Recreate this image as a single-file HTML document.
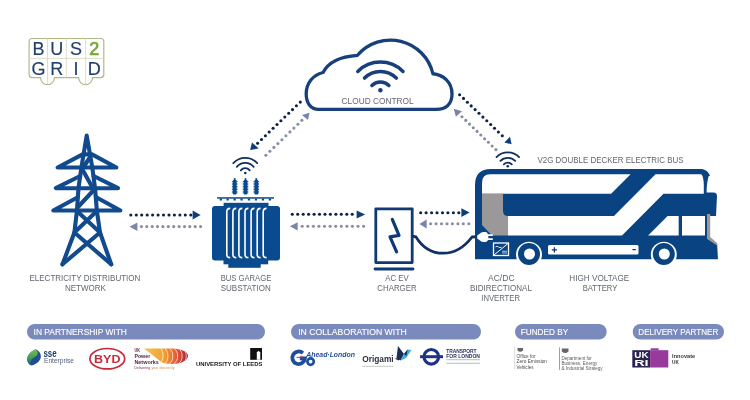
<!DOCTYPE html>
<html><head><meta charset="utf-8">
<style>
html,body{margin:0;padding:0;background:#fff;width:750px;height:400px;overflow:hidden}
svg{display:block;will-change:transform}
text{font-family:"Liberation Sans",sans-serif}
.lbl{fill:#62676f;font-size:9.6px}
.pill{fill:#fff;stroke:#fff;stroke-width:0.12px;font-size:9.4px}
</style></head><body>
<svg width="750" height="400" viewBox="0 0 750 400">
<rect width="750" height="400" fill="#fff"/>

<!-- BUS2GRID logo -->
<g id="logo">
  <path d="M32 38.5 H100.8 Q103.8 38.5 103.8 41.5 V74.6 Q103.8 77.6 100.8 77.6 H92.6 A7 7 0 0 1 78.6 77.6 H54.5 A7 7 0 0 1 40.5 77.6 H32 Q29.1 77.6 29.1 74.6 V41.5 Q29.1 38.5 32 38.5 Z" fill="none" stroke="#b0b987" stroke-width="1.2"/>
  <g stroke="#d3d8bd" stroke-width="0.8">
    <line x1="47.5" y1="38.5" x2="47.5" y2="84.6"/>
    <line x1="66.3" y1="38.5" x2="66.3" y2="77.6"/>
    <line x1="85.6" y1="38.5" x2="85.6" y2="84.6"/>
    <line x1="29.1" y1="58.4" x2="103.8" y2="58.4"/>
  </g>
  <g font-size="18" fill="#1f3e6c" stroke="#1f3e6c" stroke-width="0.15" text-anchor="middle">
    <text x="38.6" y="55">B</text><text x="56.8" y="55">U</text><text x="75.9" y="55">S</text>
    <text x="94.2" y="55" fill="#7aa63c" stroke="#7aa63c" stroke-width="0.7">2</text>
    <text x="38.6" y="74.9">G</text><text x="56.8" y="74.9">R</text><text x="75.9" y="74.9">I</text><text x="94.2" y="74.9">D</text>
  </g>
</g>

<!-- Cloud -->
<path d="M318.75 109.4 C310 109.4 306.2 102 306.2 94 C306.2 83 313 75 323.1 72.5 C328 62.5 340 56.5 357.5 55.3 A43.5 43.5 0 0 1 432.9 73.75 C443 74.5 452 82 452 94 C452 104 446 109.4 436 109.4 Z" fill="#fff" stroke="#173f7b" stroke-width="3.3" stroke-linejoin="round"/>
<g fill="none" stroke="#173f7b" stroke-width="3.5" stroke-linecap="round">
  <path d="M357.8 71.4 A32 32 0 0 1 403 71.4"/>
  <path d="M364.5 78.1 A22.5 22.5 0 0 1 396.3 78.1"/>
  <path d="M371.9 85.5 A12 12 0 0 1 388.9 85.5"/>
</g>
<circle cx="380.4" cy="90.3" r="2.2" fill="#173f7b"/>
<text class="lbl" x="377.6" y="104.4" text-anchor="middle" textLength="72" lengthAdjust="spacingAndGlyphs">CLOUD CONTROL</text>

<!-- Tower -->
<g fill="none" stroke="#124a8e" stroke-width="4.1" stroke-linecap="round" stroke-linejoin="round">
  <path d="M62.5 264.3 L74.4 232.5 L76.9 211 L78.5 188 L81.4 167.5 L86.7 135.5 L92.3 167.5 L95 188 L96.9 211 L100 232.5 L111.2 264.3"/>
  <path d="M82.6 154.4 L57.6 167.5 H116.4 L92 154.4 Z"/>
  <path d="M80.2 176 L55.8 188.2 H118 L93.6 176"/>
  <path d="M77.8 197.3 L53.3 210.5 H120.4 L96.2 197.3"/>
  <path d="M90.8 156 L82.2 169 L93.8 190 L78 207"/>
  <path d="M76.9 211 L100 232.5 L62.5 264.3"/>
  <path d="M96.9 211 L74.4 232.5 L111.2 264.3"/>
</g>

<!-- Substation -->
<g fill="none" stroke="#0f2f5f" stroke-width="1.8" stroke-linecap="round">
  <path d="M233.3 163.2 A16 16 0 0 1 257.2 163.2"/>
  <path d="M236.8 166.8 A11 11 0 0 1 253.7 166.8"/>
  <path d="M240.8 170.3 A5.8 5.8 0 0 1 249.7 170.3"/>
</g>
<circle cx="245.3" cy="173" r="1.3" fill="#0f2f5f"/>
<g fill="#0a4a8e">
  <g id="ins">
    <rect x="233.8" y="178.2" width="1.8" height="3"/>
    <rect x="232.9" y="180" width="3.7" height="14.5" rx="0.8"/>
    <rect x="231.9" y="181.2" width="5.6" height="0.8"/><rect x="231.9" y="182.8" width="5.6" height="0.8"/><rect x="231.9" y="184.4" width="5.6" height="0.8"/><rect x="231.9" y="186.0" width="5.6" height="0.8"/><rect x="231.9" y="187.6" width="5.6" height="0.8"/><rect x="231.9" y="189.2" width="5.6" height="0.8"/><rect x="231.9" y="190.8" width="5.6" height="0.8"/><rect x="231.9" y="192.4" width="5.6" height="0.8"/>
  </g>
  <use href="#ins" x="10.8"/><use href="#ins" x="21.6"/>
  <rect x="217.1" y="197.2" width="56.9" height="1.5"/>
  <rect x="219.7" y="198.5" width="2.3" height="2"/><rect x="226.5" y="198.5" width="2.3" height="2"/><rect x="233.5" y="198.5" width="2.3" height="2"/><rect x="240.4" y="198.5" width="2.3" height="2"/><rect x="247.8" y="198.5" width="2.3" height="2"/><rect x="254.8" y="198.5" width="2.3" height="2"/><rect x="261.8" y="198.5" width="2.3" height="2"/><rect x="268.8" y="198.5" width="2.3" height="2"/>
  <rect x="223.6" y="202.8" width="44.9" height="4"/>
  <rect x="212" y="206" width="68" height="54.5" rx="3"/>
  <rect x="223.5" y="259" width="44.7" height="5.3"/>
  <rect x="228.3" y="264" width="32.4" height="3.8"/>
</g>
<g fill="none" stroke="#fff" stroke-width="1.6">
  <path d="M230.2 208.4 Q226.8 208.4 226.8 212 V254.5 Q226.8 257.6 230.2 257.6"/>
  <path d="M236.3 208.4 Q232.9 208.4 232.9 212 V254.5 Q232.9 257.6 236.3 257.6"/>
  <path d="M242.3 208.4 Q238.9 208.4 238.9 212 V254.5 Q238.9 257.6 242.3 257.6"/>
  <path d="M248.4 208.4 Q245.0 208.4 245.0 212 V254.5 Q245.0 257.6 248.4 257.6"/>
  <path d="M254.5 208.4 Q251.1 208.4 251.1 212 V254.5 Q251.1 257.6 254.5 257.6"/>
  <path d="M260.6 208.4 Q257.2 208.4 257.2 212 V254.5 Q257.2 257.6 260.6 257.6"/>
  <path d="M266.6 208.4 Q263.2 208.4 263.2 212 V254.5 Q263.2 257.6 266.6 257.6"/>
</g>
<text class="lbl" x="246" y="281.4" text-anchor="middle" textLength="50.6" lengthAdjust="spacingAndGlyphs">BUS GARAGE</text>
<text class="lbl" x="245.7" y="291.4" text-anchor="middle" textLength="50" lengthAdjust="spacingAndGlyphs">SUBSTATION</text>

<!-- Tower label -->
<text class="lbl" x="84.9" y="281.4" text-anchor="middle" textLength="111" lengthAdjust="spacingAndGlyphs">ELECTRICITY DISTRIBUTION</text>
<text class="lbl" x="85.4" y="291.4" text-anchor="middle" textLength="41" lengthAdjust="spacingAndGlyphs">NETWORK</text>

<!-- Charger -->
<g fill="none" stroke="#0f3a74" stroke-linecap="round" stroke-linejoin="round">
  <rect x="375.8" y="208.8" width="36.4" height="53.8" stroke-width="2.8"/>
  <path d="M392.3 219.4 L399 235.4 L390 236.9 L396.6 251.8" stroke-width="3.2"/>
  <line x1="375" y1="269" x2="413" y2="269" stroke-width="2.8"/>
  <path d="M413.4 236.3 L416 236.9 C421 245 430 253.2 443.2 253.2 C456 253.2 466 245 472 237 L478 236.6" stroke-width="2.8" stroke="#0e3166"/>
</g>
<text class="lbl" x="397" y="281.4" text-anchor="middle" textLength="23.4" lengthAdjust="spacingAndGlyphs">AC EV</text>
<text class="lbl" x="397" y="291.4" text-anchor="middle" textLength="39.4" lengthAdjust="spacingAndGlyphs">CHARGER</text>

<!-- Bus -->
<g id="bus">
  <path d="M475 257 V185 Q475 169 491 169 H700 C704 169 708 170.5 710 175.8 L708.6 176.3 C707.2 181 706.6 187 706.6 192.5 H713.5 Q717 192.5 717 196 L716 216 H707.2 V238.5 L717.2 245 L718 259.5 H475 Z" fill="#0a4381"/>
  <path d="M482 193.8 V183 Q482 174.3 490 174.3 H630.6 L611.1 193.8 Z" fill="#fff"/>
  <path d="M655.5 174.3 H701 Q703.5 175 703.8 185 V193.8 H663.5 L622 235.5 H508 V216 H614 Z" fill="#fff"/>
  <path d="M667.6 216 H678.7 V235.5 H648.1 Z" fill="#fff"/>
  <rect x="682" y="216" width="23" height="19.5" fill="#fff"/>
  <path d="M482 193.8 H503 V211 Q503 216 508 216 V235.5 H492 L482 225 Z" fill="#9a9899"/>
  <path d="M707 214 H710.2 V237 L717.3 243.2 V245.5 L707 238.8 Z" fill="#9a9899"/>
  <circle cx="529" cy="254.8" r="13" fill="#fff"/>
  <circle cx="663.8" cy="254.8" r="13" fill="#fff"/>
  <rect x="475" y="259.5" width="250" height="10" fill="#fff"/>
  <circle cx="529" cy="254" r="11" fill="#0a4381"/>
  <circle cx="529.5" cy="254" r="5.5" fill="#fff"/>
  <circle cx="663.8" cy="254" r="11" fill="#0a4381"/>
  <circle cx="664.3" cy="254" r="5.5" fill="#fff"/>
  <rect x="548" y="245" width="90.5" height="9.5" rx="1.5" fill="#fff"/>
  <path d="M551.8 249.9 H557 M554.4 247.3 V252.5" stroke="#0d3a70" stroke-width="1.3"/>
  <path d="M632.4 249.6 H635.8" stroke="#0d3a70" stroke-width="1.3"/>
  <!-- inverter icon -->
  <rect x="493.5" y="243" width="15" height="12.5" fill="none" stroke="#fff" stroke-width="1.3"/>
  <path d="M494 255 L508 243.5" stroke="#fff" stroke-width="1"/>
  <path d="M495.5 247 q1.5 -1.5 3 0 t3 0" fill="none" stroke="#fff" stroke-width="0.8"/>
  <path d="M502 251.3 H507 M502 253 H507" stroke="#fff" stroke-width="0.7"/>
  <!-- plug -->
  <path d="M475.3 236.8 H478" stroke="#0f3a74" stroke-width="2.2"/>
  <path d="M477.2 235.6 L480 233.5 C481 232.2 483 232 485 232 C487.5 232 488.4 234 488.4 237 C488.4 240 487.5 242 485 242 C483 242 481 241.8 480 240.5 L477.2 238.4 Z" fill="#fff"/>
  <path d="M488 235.2 H492.8 M488 239.2 H492.8" stroke="#fff" stroke-width="1.8"/>
</g>
<g fill="none" stroke="#0f2f5f" stroke-width="1.8" stroke-linecap="round">
  <path d="M496.5 157.1 A16 16 0 0 1 519.1 157.1"/>
  <path d="M500.4 160.9 A10.5 10.5 0 0 1 515.2 160.9"/>
  <path d="M503.8 164.3 A5.6 5.6 0 0 1 511.8 164.3"/>
</g>
<circle cx="507.8" cy="166.3" r="1.3" fill="#0f2f5f"/>
<text class="lbl" x="610.5" y="163.4" text-anchor="middle" textLength="146" lengthAdjust="spacingAndGlyphs">V2G DOUBLE DECKER ELECTRIC BUS</text>
<text class="lbl" x="501.3" y="281.4" text-anchor="middle" textLength="26.7" lengthAdjust="spacingAndGlyphs">AC/DC</text>
<text class="lbl" x="501" y="291.4" text-anchor="middle" textLength="62" lengthAdjust="spacingAndGlyphs">BIDIRECTIONAL</text>
<text class="lbl" x="500.6" y="301.4" text-anchor="middle" textLength="38.7" lengthAdjust="spacingAndGlyphs">INVERTER</text>
<text class="lbl" x="599.3" y="281.4" text-anchor="middle" textLength="60" lengthAdjust="spacingAndGlyphs">HIGH VOLTAGE</text>
<text class="lbl" x="600" y="291.4" text-anchor="middle" textLength="34.6" lengthAdjust="spacingAndGlyphs">BATTERY</text>

<!-- Dotted arrows -->
<g id="arrows">
<g fill="#0b2149"><circle cx="130.8" cy="215.0" r="1.55"/><circle cx="136.3" cy="215.0" r="1.55"/><circle cx="141.7" cy="215.0" r="1.55"/><circle cx="147.2" cy="215.0" r="1.55"/><circle cx="152.6" cy="215.0" r="1.55"/><circle cx="158.1" cy="215.0" r="1.55"/><circle cx="163.5" cy="215.0" r="1.55"/><circle cx="169.0" cy="215.0" r="1.55"/><circle cx="174.4" cy="215.0" r="1.55"/><circle cx="179.9" cy="215.0" r="1.55"/><circle cx="185.3" cy="215.0" r="1.55"/><circle cx="190.8" cy="215.0" r="1.55"/></g>
<path d="M192.6 210.6 L200.6 215 L192.6 219.4 Z" fill="#0f3d7c"/>
<g fill="#8b8d9f"><circle cx="141.4" cy="226.6" r="1.55"/><circle cx="146.8" cy="226.6" r="1.55"/><circle cx="152.2" cy="226.6" r="1.55"/><circle cx="157.5" cy="226.6" r="1.55"/><circle cx="162.9" cy="226.6" r="1.55"/><circle cx="168.3" cy="226.6" r="1.55"/><circle cx="173.7" cy="226.6" r="1.55"/><circle cx="179.1" cy="226.6" r="1.55"/><circle cx="184.5" cy="226.6" r="1.55"/><circle cx="189.8" cy="226.6" r="1.55"/><circle cx="195.2" cy="226.6" r="1.55"/><circle cx="200.6" cy="226.6" r="1.55"/></g>
<path d="M129.6 226.8 L137.4 222.6 L137.4 231 Z" fill="#7c84ae"/>
<g fill="#0b2149"><circle cx="292.3" cy="214.3" r="1.55"/><circle cx="297.7" cy="214.3" r="1.55"/><circle cx="303.2" cy="214.3" r="1.55"/><circle cx="308.6" cy="214.3" r="1.55"/><circle cx="314.1" cy="214.3" r="1.55"/><circle cx="319.5" cy="214.3" r="1.55"/><circle cx="325.0" cy="214.3" r="1.55"/><circle cx="330.4" cy="214.3" r="1.55"/><circle cx="335.9" cy="214.3" r="1.55"/><circle cx="341.3" cy="214.3" r="1.55"/><circle cx="346.8" cy="214.3" r="1.55"/><circle cx="352.2" cy="214.3" r="1.55"/></g>
<path d="M356.6 210.4 L365.1 214.4 L356.6 218.4 Z" fill="#0f3d7c"/>
<g fill="#8b8d9f"><circle cx="302.2" cy="226.2" r="1.55"/><circle cx="307.8" cy="226.2" r="1.55"/><circle cx="313.4" cy="226.2" r="1.55"/><circle cx="318.9" cy="226.2" r="1.55"/><circle cx="324.5" cy="226.2" r="1.55"/><circle cx="330.1" cy="226.2" r="1.55"/><circle cx="335.7" cy="226.2" r="1.55"/><circle cx="341.3" cy="226.2" r="1.55"/><circle cx="346.9" cy="226.2" r="1.55"/><circle cx="352.4" cy="226.2" r="1.55"/><circle cx="358.0" cy="226.2" r="1.55"/><circle cx="363.6" cy="226.2" r="1.55"/></g>
<path d="M289.9 226.3 L297.7 222.2 L297.7 230.4 Z" fill="#7c84ae"/>
<g fill="#0b2149"><circle cx="420.7" cy="212.8" r="1.55"/><circle cx="426.1" cy="212.8" r="1.55"/><circle cx="431.6" cy="212.8" r="1.55"/><circle cx="437.0" cy="212.8" r="1.55"/><circle cx="442.5" cy="212.8" r="1.55"/><circle cx="447.9" cy="212.8" r="1.55"/><circle cx="453.4" cy="212.8" r="1.55"/><circle cx="458.8" cy="212.8" r="1.55"/></g>
<path d="M461.4 208.2 L469.6 212.6 L461.4 216.9 Z" fill="#0f3d7c"/>
<g fill="#8b8d9f"><circle cx="430.6" cy="223.8" r="1.55"/><circle cx="436.1" cy="223.8" r="1.55"/><circle cx="441.5" cy="223.8" r="1.55"/><circle cx="447.0" cy="223.8" r="1.55"/><circle cx="452.4" cy="223.8" r="1.55"/><circle cx="457.9" cy="223.8" r="1.55"/><circle cx="463.3" cy="223.8" r="1.55"/><circle cx="468.8" cy="223.8" r="1.55"/></g>
<path d="M419.4 224 L426.7 219.5 L426.7 228.6 Z" fill="#7c84ae"/>
<g fill="#0b2149"><circle cx="300.3" cy="102.1" r="1.55"/><circle cx="296.4" cy="105.8" r="1.55"/><circle cx="292.5" cy="109.6" r="1.55"/><circle cx="288.7" cy="113.3" r="1.55"/><circle cx="284.8" cy="117.0" r="1.55"/><circle cx="280.9" cy="120.8" r="1.55"/><circle cx="277.0" cy="124.5" r="1.55"/><circle cx="273.1" cy="128.3" r="1.55"/><circle cx="269.2" cy="132.0" r="1.55"/><circle cx="265.4" cy="135.7" r="1.55"/><circle cx="261.5" cy="139.5" r="1.55"/><circle cx="257.6" cy="143.2" r="1.55"/></g>
<path d="M250.1 150.1 L252 142.4 L258.7 148.5 Z" fill="#0f3d7c"/>
<g fill="#8b8d9f"><circle cx="265.9" cy="155.2" r="1.55"/><circle cx="269.9" cy="151.3" r="1.55"/><circle cx="273.9" cy="147.4" r="1.55"/><circle cx="277.9" cy="143.6" r="1.55"/><circle cx="281.9" cy="139.7" r="1.55"/><circle cx="285.9" cy="135.8" r="1.55"/><circle cx="289.9" cy="131.9" r="1.55"/><circle cx="293.9" cy="128.1" r="1.55"/><circle cx="297.9" cy="124.2" r="1.55"/><circle cx="301.9" cy="120.3" r="1.55"/></g>
<path d="M309.6 112.8 L301.9 114.9 L308 120 Z" fill="#7c84ae"/>
<g fill="#0b2149"><circle cx="459.6" cy="94.7" r="1.55"/><circle cx="463.5" cy="98.4" r="1.55"/><circle cx="467.4" cy="102.2" r="1.55"/><circle cx="471.2" cy="105.9" r="1.55"/><circle cx="475.1" cy="109.6" r="1.55"/><circle cx="479.0" cy="113.3" r="1.55"/><circle cx="482.9" cy="117.1" r="1.55"/><circle cx="486.8" cy="120.8" r="1.55"/><circle cx="490.7" cy="124.5" r="1.55"/><circle cx="494.5" cy="128.2" r="1.55"/><circle cx="498.4" cy="132.0" r="1.55"/><circle cx="502.3" cy="135.7" r="1.55"/></g>
<path d="M511.6 144.3 L504.4 142.4 L510 136.8 Z" fill="#0f3d7c"/>
<g fill="#8b8d9f"><circle cx="462.0" cy="116.8" r="1.55"/><circle cx="465.8" cy="120.4" r="1.55"/><circle cx="469.5" cy="124.1" r="1.55"/><circle cx="473.3" cy="127.7" r="1.55"/><circle cx="477.1" cy="131.4" r="1.55"/><circle cx="480.8" cy="135.0" r="1.55"/><circle cx="484.6" cy="138.7" r="1.55"/><circle cx="488.4" cy="142.3" r="1.55"/><circle cx="492.1" cy="146.0" r="1.55"/><circle cx="495.9" cy="149.6" r="1.55"/></g>
<path d="M453.7 108.8 L455.9 116.8 L462 111.2 Z" fill="#7c84ae"/>
</g>

<!-- Bottom pills -->
<rect x="27" y="324" width="238" height="15.4" rx="7.7" fill="#7a8abd"/>
<text class="pill" x="33.6" y="335.3" textLength="93.3" lengthAdjust="spacingAndGlyphs">IN PARTNERSHIP WITH</text>
<rect x="291" y="324" width="190" height="15.4" rx="7.7" fill="#7a8abd"/>
<text class="pill" x="298.2" y="335.3" textLength="108.5" lengthAdjust="spacingAndGlyphs">IN COLLABORATION WITH</text>
<rect x="515" y="324" width="91.7" height="15.4" rx="7.7" fill="#7a8abd"/>
<text class="pill" x="520.7" y="335.3" textLength="47.6" lengthAdjust="spacingAndGlyphs">FUNDED BY</text>
<rect x="632.7" y="324" width="91.3" height="15.4" rx="7.7" fill="#7a8abd"/>
<text class="pill" x="638.3" y="335.3" textLength="80" lengthAdjust="spacingAndGlyphs">DELIVERY PARTNER</text>

<!-- Logos -->
<g id="logos">
<!-- SSE -->
<defs>
  <linearGradient id="sseg" x1="0" y1="0" x2="0" y2="1">
    <stop offset="0" stop-color="#7cc242"/><stop offset="0.55" stop-color="#3f9c5a"/><stop offset="1" stop-color="#1f4f8f"/>
  </linearGradient>
  <linearGradient id="ukpn" x1="0" y1="0" x2="1" y2="0">
    <stop offset="0" stop-color="#f7c45a"/><stop offset="0.45" stop-color="#f0a032"/><stop offset="0.75" stop-color="#e0503a"/><stop offset="1" stop-color="#8c1c3a"/>
  </linearGradient>
</defs>
<path d="M35.5 349.3 C29 352.5 26.5 357 27.5 361 C28 363.5 30 365 31.5 365.6 C37 364 41.5 360 40.8 355.5 C40.5 352.5 38.5 350.5 35.5 349.3 Z" fill="#1f4f8f"/>
<path d="M35.5 349.3 C29 352.5 26.5 357 27.5 361 C28 363 29.5 364.5 30.5 365 C30 361 32.5 358 35.5 356.5 C38.5 355 38.5 351.5 35.5 349.3 Z" fill="url(#sseg)"/>

<text x="43.4" y="357.4" font-size="10.2" font-weight="bold" fill="#1b3a6b" textLength="13.4" lengthAdjust="spacingAndGlyphs">sse</text>
<text x="44" y="363.4" font-size="6.8" fill="#4e5d7a" textLength="30" lengthAdjust="spacingAndGlyphs">Enterprise</text>

<!-- BYD -->
<ellipse cx="107.3" cy="358.7" rx="17.4" ry="10.2" fill="none" stroke="#c8283a" stroke-width="1.7"/>
<text x="107.3" y="363.2" font-size="11.4" font-weight="bold" fill="#c8283a" text-anchor="middle" textLength="26.4" lengthAdjust="spacingAndGlyphs">BYD</text>

<!-- UK Power Networks -->
<clipPath id="fanclip"><path d="M144 348.4 L172 348.4 C182 348.6 188.5 352 188 356 C187.5 360.5 181 364 172 364 C166 364 162 363 160 361 Z"/></clipPath>
<g clip-path="url(#fanclip)">
  <rect x="143" y="347" width="47" height="18" fill="url(#ukpn)"/>
  <g fill="none" stroke="#fff" stroke-width="0.9" opacity="0.75">
    <path d="M160 348 C164 351 164 360 160 363"/>
    <path d="M164.5 348 C169 351 169 361 164.5 364"/>
    <path d="M169 348 C174 351 174 361 169 364"/>
    <path d="M173.5 348 C179 351 179 361 173.5 364"/>
    <path d="M178 348 C183.5 351 183.5 361 178 364"/>
    <path d="M182.5 348 C187.5 351 187.5 361 182.5 364"/>
  </g>
</g>
<g font-size="5.6" font-weight="bold" fill="#5a2448">
  <text x="134.4" y="351.8" textLength="5.5" lengthAdjust="spacingAndGlyphs">UK</text>
  <text x="134.4" y="358.3" textLength="15.8" lengthAdjust="spacingAndGlyphs">Power</text>
  <text x="134.4" y="363.8" textLength="24.5" lengthAdjust="spacingAndGlyphs">Networks</text>
</g>
<text x="134.2" y="369.3" font-size="4" fill="#7a3a50" textLength="40.4" lengthAdjust="spacingAndGlyphs">Delivering <tspan fill="#e58a4a">your electricity</tspan></text>

<!-- University of Leeds -->
<rect x="250.2" y="348" width="11.8" height="11.8" fill="#111"/>
<path d="M256.8 359.8 V352.5 Q258.5 349.5 260.3 352.5 V359.8 Z" fill="#fff"/>
<text x="196" y="366.1" font-size="5.6" font-weight="bold" fill="#1a1a1a" textLength="66.5" lengthAdjust="spacingAndGlyphs">UNIVERSITY OF LEEDS</text>

<!-- Go-Ahead London -->
<path d="M302.9 353.1 A6.3 6.3 0 1 0 304.9 358.4 H299.8" fill="none" stroke="#1f4f9a" stroke-width="3.8"/>
<circle cx="310.6" cy="361.6" r="3.2" fill="none" stroke="#1f4f9a" stroke-width="2.7"/>
<path d="M296.5 357.6 L303 356.8" stroke="#d9333f" stroke-width="1"/>
<text x="306.3" y="357" font-size="6.8" font-weight="bold" font-style="italic" fill="#1f4f9a" textLength="48.6" lengthAdjust="spacingAndGlyphs">Ahead·London</text>

<!-- Origami -->
<text x="362.2" y="362" font-size="8.4" font-weight="bold" fill="#2e3140" textLength="31.5" lengthAdjust="spacingAndGlyphs">Origami</text>
<rect x="362.2" y="365.8" width="31.5" height="0.9" fill="#c0c2c8"/>
<path d="M394.5 358.5 L401 358 L398.5 360.5 Z" fill="#1a2e55"/>
<path d="M398 346 L404 354 L400.5 360.5 L396.5 358 Z" fill="#1a2e55"/>
<path d="M400.5 360.5 L404 354 L407.5 349.5 L411.5 350 L406 358 Z" fill="#3aaee0"/>
<path d="M404 354 L407.5 349.5 L406.5 356 Z" fill="#1a2e55"/>

<!-- TfL -->
<circle cx="431.3" cy="356.8" r="7.3" fill="none" stroke="#1d3384" stroke-width="3.2"/>
<rect x="420.1" y="355.2" width="22.9" height="3" fill="#1d3384"/>
<g font-weight="bold" fill="#26305e" font-size="4.8">
  <text x="446.3" y="352.7" textLength="30.3" lengthAdjust="spacingAndGlyphs">TRANSPORT</text>
  <text x="446.3" y="358.3" textLength="33.6" lengthAdjust="spacingAndGlyphs">FOR LONDON</text>
</g>
<rect x="446.3" y="359.6" width="33.6" height="0.5" fill="#777"/>
<rect x="446.3" y="362.7" width="33.6" height="1.2" fill="#c4c6cc"/>

<!-- OZEV -->
<rect x="514.5" y="346.8" width="0.6" height="22.4" fill="#c4c4c4"/>
<path d="M517.5 348 h5.5 v2.5 q-2.7 2.5 -5.5 0 Z" fill="#666"/>
<g font-size="5" fill="#4a4a4a">
  <text x="516.6" y="357.8" textLength="18.9" lengthAdjust="spacingAndGlyphs">Office for</text>
  <text x="516.6" y="363.2" textLength="30.4" lengthAdjust="spacingAndGlyphs">Zero Emission</text>
  <text x="516.6" y="368.6" textLength="16.8" lengthAdjust="spacingAndGlyphs">Vehicles</text>
</g>
<!-- BEIS -->
<rect x="559.2" y="347.4" width="0.8" height="22.5" fill="#888"/>
<path d="M561.8 348.5 h6.7 v3 q-3.3 3 -6.7 0 Z" fill="#666"/>
<g font-size="5" fill="#5a5a5a">
  <text x="561.4" y="359.9" textLength="30.4" lengthAdjust="spacingAndGlyphs">Department for</text>
  <text x="561.4" y="365" textLength="36" lengthAdjust="spacingAndGlyphs">Business, Energy</text>
  <text x="561.4" y="369.6" textLength="41.2" lengthAdjust="spacingAndGlyphs">&amp; Industrial Strategy</text>
</g>

<!-- UKRI / Innovate UK -->
<rect x="632.3" y="350.2" width="17.8" height="17.3" fill="#2b2352"/>
<rect x="650.1" y="350.2" width="18.2" height="17.3" fill="#983a9c"/>
<rect x="650.6" y="348.3" width="8.1" height="2" fill="#983a9c"/>
<g font-size="8.8" font-weight="bold" fill="#fff">
  <text x="634.2" y="358.4" textLength="14.4" lengthAdjust="spacingAndGlyphs">UK</text>
  <text x="634.2" y="366.1" textLength="14.4" lengthAdjust="spacingAndGlyphs">RI</text>
</g>
<g font-size="5.4" font-weight="bold" fill="#3a3a3a">
  <text x="672.1" y="358.4" textLength="23.1" lengthAdjust="spacingAndGlyphs">Innovate</text>
  <text x="672.1" y="364.2" textLength="6.8" lengthAdjust="spacingAndGlyphs">UK</text>
</g>
</g>
</svg>
</body></html>
